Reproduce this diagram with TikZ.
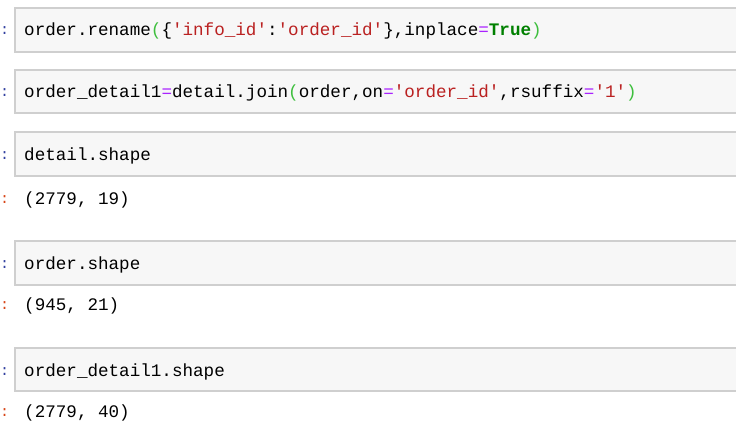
\documentclass[tikz,border=0pt]{standalone}
\usepackage{fontspec}
\setmonofont{Liberation Mono}
\begin{document}
\begin{tikzpicture}[x=1pt,y=-1pt,
  cell/.style={draw=cellborder,fill=cellfill,line width=1.2pt},
  code/.style={anchor=west,inner sep=0pt,font=\ttfamily\fontsize{17.6}{17.6}\selectfont},
  pin/.style={anchor=west,inner sep=0pt,text=promptin,font=\ttfamily\fontsize{15}{15}\selectfont},
  pout/.style={anchor=west,inner sep=0pt,text=promptout,font=\ttfamily\fontsize{15}{15}\selectfont}]
\definecolor{cellborder}{HTML}{CFCFCF}
\definecolor{cellfill}{HTML}{F7F7F7}
\definecolor{promptin}{HTML}{303F9F}
\definecolor{promptout}{HTML}{D84315}
\definecolor{str}{HTML}{BA2121}
\definecolor{par}{HTML}{3EBF3E}
\definecolor{op}{HTML}{AA22FF}
\definecolor{kw}{HTML}{008000}
\newcommand{\Rs}[1]{\textcolor{str}{#1}}
\newcommand{\Gp}[1]{\textcolor{par}{#1}}
\useasboundingbox (0,0) rectangle (736,431);
\fill[white] (0,0) rectangle (736,431);
\draw[cell] (15,8) rectangle (740,52);
\draw[cell] (15,70) rectangle (740,113);
\draw[cell] (15,132) rectangle (740,176);
\draw[cell] (15,241) rectangle (740,285);
\draw[cell] (15,348) rectangle (740,391);
\node[pin] (p1) at (0,31) {:};
\node[pin] (p2) at (0,93) {:};
\node[pin] (p3) at (0,156) {:};
\node[pout] (o3) at (0,200) {:};
\node[pin] (p4) at (0,265) {:};
\node[pout] (o4) at (0,306) {:};
\node[pin] (p5) at (0,372) {:};
\node[pout] (o5) at (0,413) {:};
\node[code] (c1) at (24,31) {order.rename\Gp{(}\{\Rs{'info\_id'}:\Rs{'order\_id'}\},inplace\textcolor{op}{=}\textcolor{kw}{\bfseries True}\Gp{)}};
\node[code] (c2) at (24,93) {order\_detail1\textcolor{op}{=}detail.join\Gp{(}order,on\textcolor{op}{=}\Rs{'order\_id'},rsuffix\textcolor{op}{=}\Rs{'1'}\Gp{)}};
\node[code] (c3) at (24,156) {detail.shape};
\node[code] (r3) at (24,200) {(2779, 19)};
\node[code] (c4) at (24,265) {order.shape};
\node[code] (r4) at (24,306) {(945, 21)};
\node[code] (c5) at (24,372) {order\_detail1.shape};
\node[code] (r5) at (24,413) {(2779, 40)};
\end{tikzpicture}
\end{document}
